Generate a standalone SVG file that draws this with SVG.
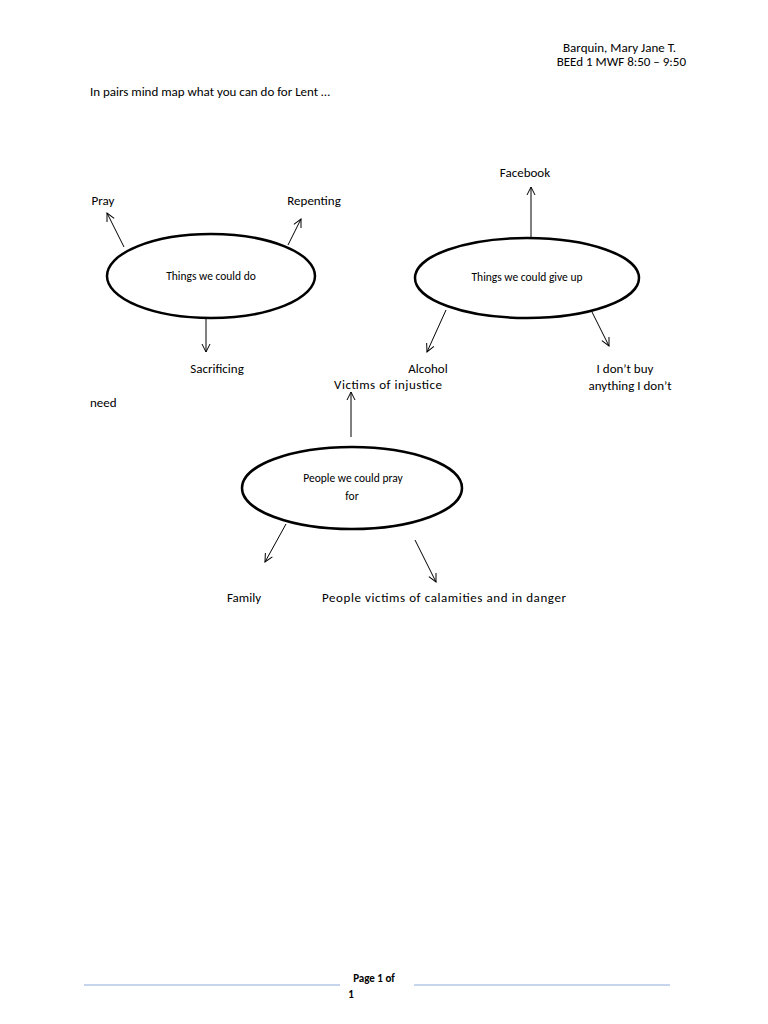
<svg xmlns="http://www.w3.org/2000/svg" width="768" height="1024" viewBox="0 0 768 1024">
<defs>
<marker id="a" markerWidth="10" markerHeight="10" refX="9" refY="5" orient="auto" markerUnits="userSpaceOnUse"><path d="M1,1 L9,5 L1,9" fill="none" stroke="#000" stroke-width="1"/></marker>
<style>
text{font-family:Calibri,"Liberation Sans",Carlito,sans-serif;fill:#000;font-size:13px}
.s{font-size:11.5px}
ellipse{fill:#fff;stroke:#000;stroke-width:2.5}
.c line{stroke:#000;stroke-width:1;marker-end:url(#a)}
</style>
</defs>
<rect width="768" height="1024" fill="#fff"/>
<text x="676" y="52" text-anchor="end">Barquin, Mary Jane T.</text>
<text x="686" y="66" text-anchor="end">BEEd 1 MWF 8:50 – 9:50</text>
<text x="90" y="96" textLength="240">In pairs mind map what you can do for Lent …</text>
<g class="c">
<line x1="124" y1="247" x2="107" y2="213"/>
<line x1="288" y1="245" x2="301" y2="219"/>
<line x1="206" y1="318" x2="206" y2="352"/>
<line x1="531" y1="238" x2="531" y2="187"/>
<line x1="446" y1="310" x2="427" y2="352"/>
<line x1="590" y1="308" x2="609" y2="346"/>
<line x1="351" y1="437" x2="351" y2="392"/>
<line x1="286" y1="524" x2="265" y2="562"/>
<line x1="415" y1="540" x2="436" y2="582"/>
</g>
<g id="n1"><ellipse cx="211" cy="276" rx="104" ry="42"/><text class="s" x="211" y="280" text-anchor="middle">Things we could do</text></g>
<g id="n2"><ellipse cx="527" cy="278" rx="112" ry="40"/><text class="s" x="527" y="281" text-anchor="middle">Things we could give up</text></g>
<g id="n3"><ellipse cx="352" cy="488" rx="110" ry="41"/><text class="s" x="353" y="482" text-anchor="middle">People we could pray</text><text class="s" x="352" y="500" text-anchor="middle">for</text></g>
<text x="103" y="205" text-anchor="middle">Pray</text>
<text x="314" y="205" text-anchor="middle">Repenting</text>
<text x="217" y="373" text-anchor="middle">Sacrificing</text>
<text x="525" y="177" text-anchor="middle">Facebook</text>
<text x="428" y="373" text-anchor="middle">Alcohol</text>
<text x="625" y="373" text-anchor="middle">I don’t buy</text>
<text x="630" y="390" text-anchor="middle">anything I don’t</text>
<text x="388" y="389" text-anchor="middle" textLength="108">Victims of injustice</text>
<text x="90" y="407">need</text>
<text x="244" y="602" text-anchor="middle">Family</text>
<text x="322" y="602" textLength="244">People victims of calamities and in danger</text>
<line x1="84" y1="985" x2="340" y2="985" stroke="#8eaadb" stroke-width="1"/>
<line x1="414" y1="985" x2="670" y2="985" stroke="#8eaadb" stroke-width="1"/>
<text x="374" y="982" text-anchor="middle" style="font-weight:bold;font-size:11px">Page 1 of</text>
<text x="351" y="998" text-anchor="middle" style="font-weight:bold;font-size:11px">1</text>
</svg>
